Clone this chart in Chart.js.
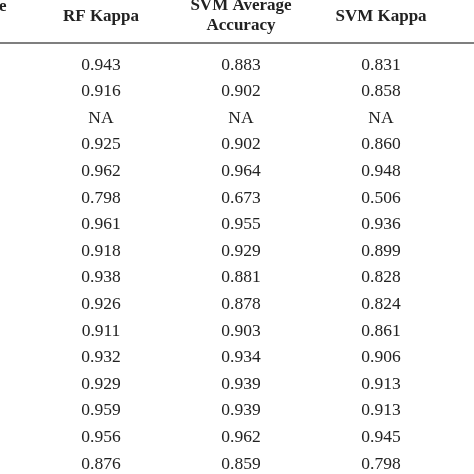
<!DOCTYPE html>
<html>
<head>
<meta charset="utf-8">
<script src="https://cdn.jsdelivr.net/npm/chart.js@4"></script>
<style>
  html, body { margin: 0; padding: 0; background: #fff; }
  #wrap { width: 474px; height: 474px; }
</style>
</head>
<body>
<div id="wrap"><canvas id="table"></canvas></div>
<script>
// Table values (rows top to bottom)
const headers = [["RF Kappa"], ["SVM Average", "Accuracy"], ["SVM Kappa"]];
const rfKappa = ["0.943", "0.916", "NA", "0.925", "0.962", "0.798", "0.961", "0.918", "0.938", "0.926", "0.911", "0.932", "0.929", "0.959", "0.956", "0.876"];
const svmAccuracy = ["0.883", "0.902", "NA", "0.902", "0.964", "0.673", "0.955", "0.929", "0.881", "0.878", "0.903", "0.934", "0.939", "0.939", "0.962", "0.859"];
const svmKappa = ["0.831", "0.858", "NA", "0.860", "0.948", "0.506", "0.936", "0.899", "0.828", "0.824", "0.861", "0.906", "0.913", "0.913", "0.945", "0.798"];

const columns = [rfKappa, svmAccuracy, svmKappa];
const colX = [101, 241, 381];
const rowTop = 65, rowStep = 26.6;

// one invisible point per cell; the plugin writes the text at it
const datasets = columns.map((col, c) => ({
    data: col.map((v, r) => ({x: colX[c], y: rowTop + r * rowStep, label: v})),
    pointRadius: 0
}));

const serif = '"Liberation Serif", "DejaVu Serif", serif';

const tableText = {
    id: "tableText",
    afterDatasetsDraw(chart) {
        const ctx = chart.ctx;
        const xs = chart.scales.x, ys = chart.scales.y;
        ctx.save();
        ctx.textAlign = "center";
        ctx.textBaseline = "middle";
        ctx.fillStyle = "#222";
        ctx.font = "17.5px " + serif;
        chart.data.datasets.forEach((ds, i) => {
            chart.getDatasetMeta(i).data.forEach((pt, j) => {
                ctx.fillText(ds.data[j].label, pt.x, pt.y);
            });
        });
        // header
        ctx.font = "bold 17px " + serif;
        headers.forEach((lines, c) => {
            const x = xs.getPixelForValue(colX[c]);
            if (lines.length === 1) {
                ctx.fillText(lines[0], x, ys.getPixelForValue(17));
            } else {
                ctx.fillText(lines[0], x, ys.getPixelForValue(6));
                ctx.fillText(lines[1], x, ys.getPixelForValue(26));
            }
        });
        ctx.textAlign = "left";
        ctx.fillText("e", xs.getPixelForValue(-1), ys.getPixelForValue(7));
        // rule under header
        ctx.strokeStyle = "#555";
        ctx.lineWidth = 1.5;
        ctx.beginPath();
        ctx.moveTo(xs.getPixelForValue(0), ys.getPixelForValue(43));
        ctx.lineTo(xs.getPixelForValue(474), ys.getPixelForValue(43));
        ctx.stroke();
        ctx.restore();
    }
};

new Chart(document.getElementById("table"), {
    type: "scatter",
    data: {datasets: datasets},
    options: {
        responsive: true,
        maintainAspectRatio: false,
        animation: false,
        layout: {padding: 0},
        plugins: {legend: {display: false}, tooltip: {enabled: false}},
        scales: {
            x: {type: "linear", min: 0, max: 474, display: false},
            y: {type: "linear", min: 0, max: 474, reverse: true, display: false}
        }
    },
    plugins: [tableText]
});
</script>
</body>
</html>
